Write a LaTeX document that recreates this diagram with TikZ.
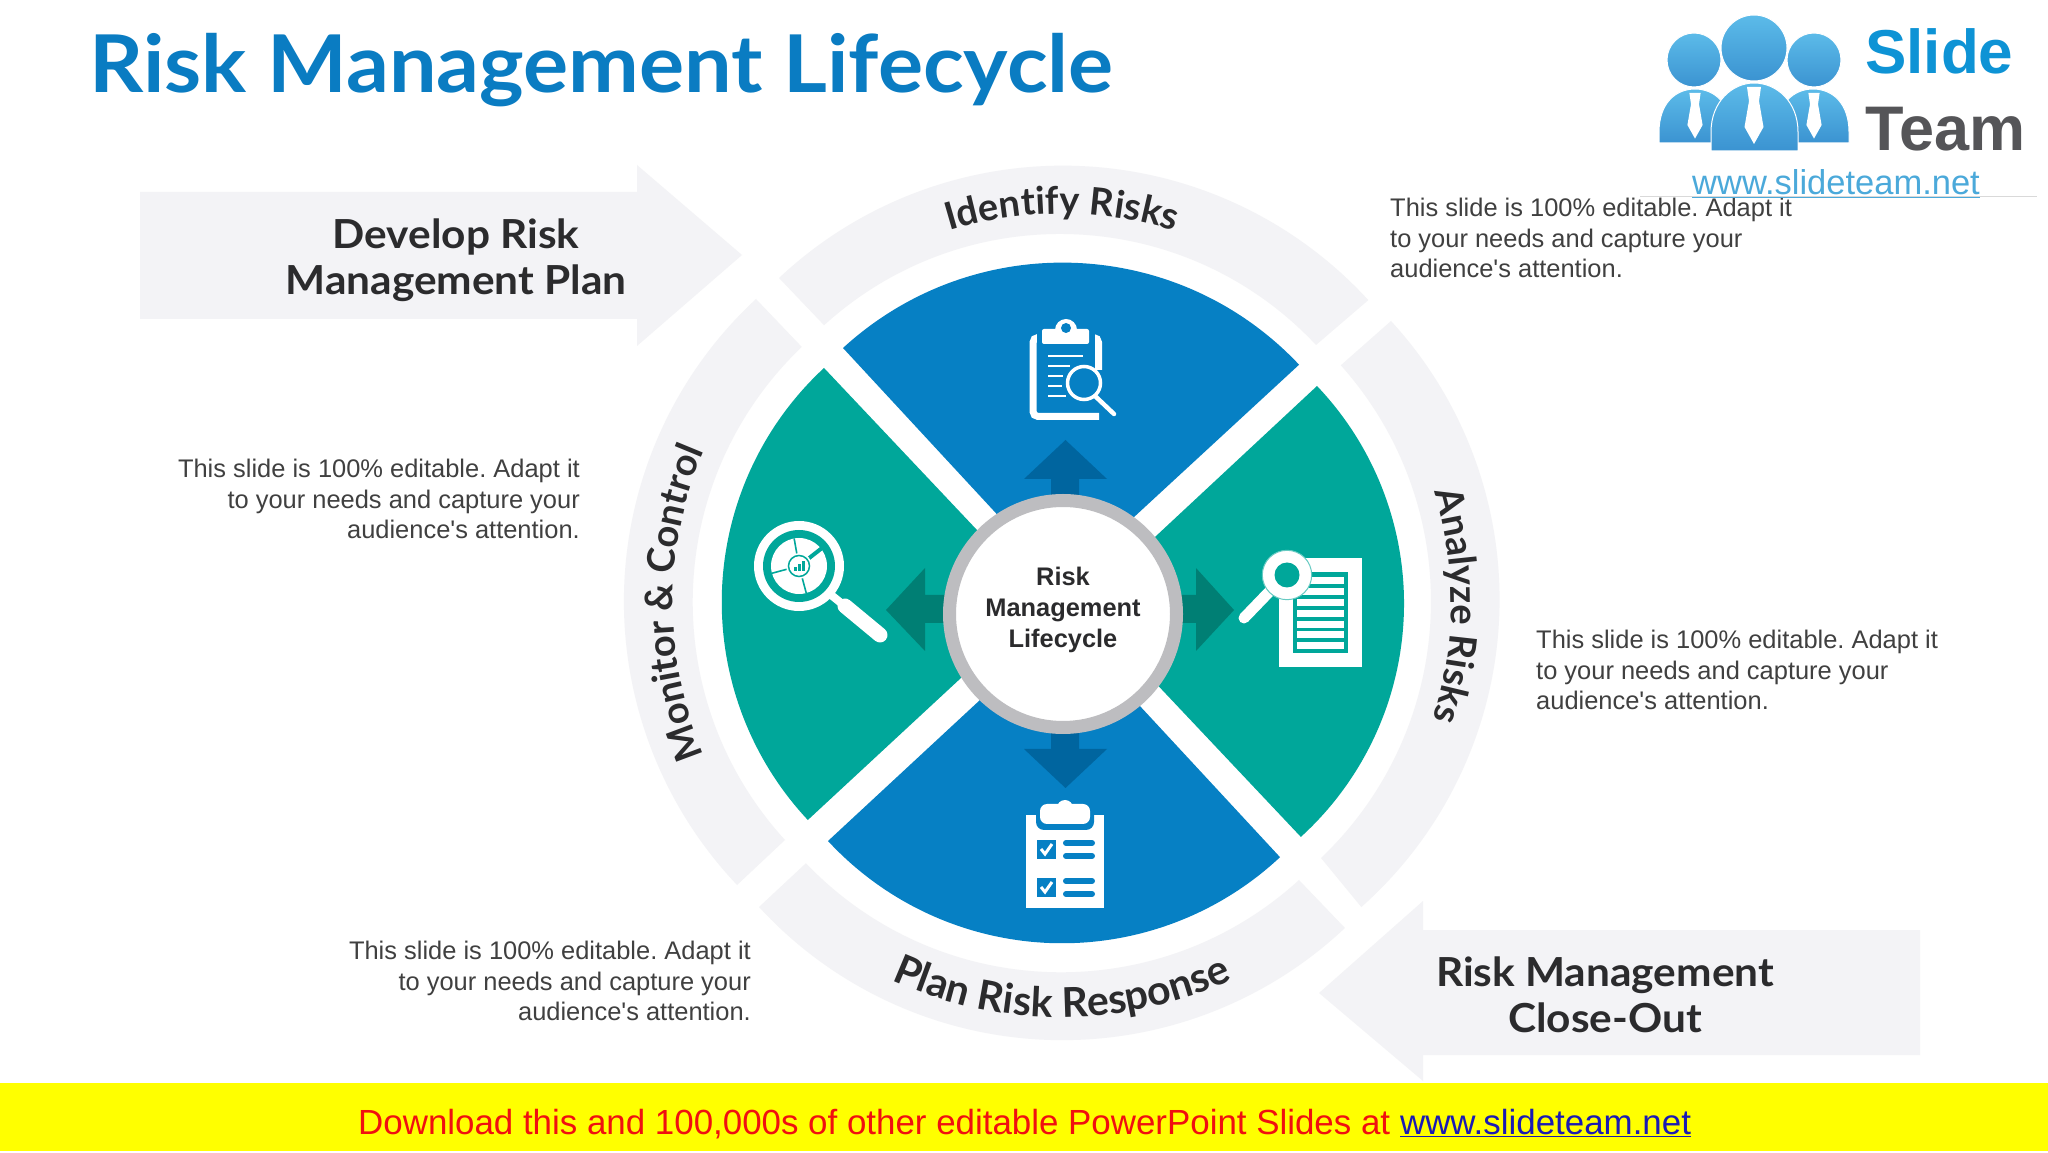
\documentclass[tikz,border=0pt]{standalone}
\usepackage{fontspec}
\setmainfont{Liberation Sans}
\newfontfamily\bodyfont{Liberation Sans}
\newfontfamily\lato{Lato}
\newfontfamily\latowide{Lato}[FakeStretch=1.06]
\usetikzlibrary{decorations.text}
\definecolor{riskblue}{HTML}{0680C4}
\definecolor{riskteal}{HTML}{00A79A}
\definecolor{darkblue}{HTML}{00659F}
\definecolor{darkteal}{HTML}{007F74}
\definecolor{bandgray}{HTML}{F3F3F6}
\definecolor{hubgray}{HTML}{BDBDC0}
\definecolor{titleblue}{HTML}{0A7CC2}
\definecolor{labeldark}{HTML}{2B2B2D}
\definecolor{bodygray}{HTML}{404040}
\definecolor{logotop}{HTML}{5CBBE9}
\definecolor{logobot}{HTML}{3B93D1}
\definecolor{logoslide}{HTML}{0E93D5}
\definecolor{logoteam}{HTML}{555558}
\definecolor{logourl}{HTML}{4BA9DA}
\definecolor{footyellow}{HTML}{FFFF00}
\definecolor{footred}{HTML}{F01010}
\definecolor{footlink}{HTML}{1A1AB4}
\newcommand{\ringfont}{\lato\bfseries\fontsize{38}{38}\selectfont}
\newcommand{\ringlarge}{\lato\bfseries\fontsize{41}{41}\selectfont}
\frenchspacing
\tikzset{
  bodytext/.style={inner sep=0,text=bodygray,font=\bodyfont\fontsize{25.45}{30.7}\selectfont},
  bigtext/.style={inner sep=0,align=center,text=labeldark,font=\latowide\bfseries\fontsize{40}{46}\selectfont},
  ringlabel/.style={decorate,decoration={text along path,text align=center,text color=labeldark,text={#1}}},
  logoblue/.style={top color=logotop,bottom color=logobot,draw=white,line width=1},
}
\begin{document}
\begin{tikzpicture}[x=1pt,y=1pt]
  \useasboundingbox (0,0) rectangle (2048,1152);
  \fill[white] (0,0) rectangle (2048,1152);
  \coordinate (ring) at (1062,549);
  \coordinate (hub) at (1063,538);
  % title
  \node (title) [anchor=base west,inner sep=0,text=titleblue,font=\latowide\bfseries\fontsize{79.7}{80}\selectfont] at (89,1059) {Risk Management Lifecycle};
  % big arrows
  \fill[bandgray] (140,960) -- (637,960) -- (637,987) -- (742,897) -- (637,806) -- (637,833) -- (140,833) -- cycle;
  \fill[bandgray] (1920,222) -- (1423,222) -- (1423,251) -- (1319,159) -- (1423,71) -- (1423,97) -- (1920,97) -- cycle;
  \node (plan) [bigtext] at (456,892) {Develop Risk\\Management Plan};
  \node (closeout) [bigtext] at (1605,157) {Risk Management\\Close-Out};
  % outer band
  \foreach \xa/\ya/\a/\b/\ra/\xb/\yb/\c/\d/\rb in {779/874/133.2/42.5/414.5/1316/807/43.1/132.3/350.6,
      1391/831/42.6/-48.4/411.4/1321/294/-46.4/41.8/354.3,
      759/245/222.6/313.3/412.1/1299/272/312.4/223.7/352.9,
      756/853/132.8/223.5/412.1/785/312/222.4/133.7/352.9}
    \fill[bandgray] (\xa,\ya) arc[start angle=\a,end angle=\b,radius=\ra] -- (\xb,\yb) arc[start angle=\c,end angle=\d,radius=\rb] -- cycle;
  \begin{scope}[shift={(ring)}]
    \path[ringlabel={|\ringfont|Identify Risks}] (170:389) arc[start angle=170,end angle=10,radius=389];
    \path[ringlabel={|\ringfont|Analyze Risks}] (79.6:389) arc[start angle=79.6,end angle=-80.4,radius=389];
    \path[ringlabel={|\ringfont|Monitor {\&} Control}] (260:389) arc[start angle=260,end angle=100,radius=389];
    \path[ringlabel={|\ringlarge|Plan Risk Response}] (190:414) arc[start angle=190,end angle=350,radius=414];
  \end{scope}
  % sectors
  \foreach \ax/\ay/\cx/\cy/\a/\b/\r/\col in {1061.5/568/843/804/132.5/43.3/325/riskblue,
      1082/547/1317/766/43.6/-47.7/315.5/riskteal,
      1063/529/828/311/222.8/313.1/319/riskblue,
      1044/551/824/784/132.8/223.1/319/riskteal}
    \fill[\col] (\ax,\ay) -- (\cx,\cy) arc[start angle=\a,end angle=\b,radius=\r] -- cycle;
  % small arrows
  \fill[darkblue] (1065.5,712) -- (1107,673) -- (1079,673) -- (1079,650) -- (1051,650) -- (1051,673) -- (1024,673) -- cycle;
  \fill[darkblue] (1065.5,364) -- (1107,403) -- (1079,403) -- (1079,425) -- (1051,425) -- (1051,403) -- (1024,403) -- cycle;
  \fill[darkteal] (886,542) -- (925,584) -- (925,557) -- (950,557) -- (950,529) -- (925,529) -- (925,501) -- cycle;
  \fill[darkteal] (1234,542) -- (1196,584) -- (1196,557) -- (1175,557) -- (1175,529) -- (1196,529) -- (1196,501) -- cycle;
  % hub
  \node (hubdisc) [circle,minimum size=227,fill=white,draw=hubgray,line width=13,inner sep=0] at (hub) {};
  \node (hubtext) [inner sep=0,align=center,text=labeldark,font=\bfseries\fontsize{25.4}{30.7}\selectfont] at (1063,542) {Risk\\Management\\Lifecycle};
  % clipboard with lens
  \draw[white,line width=7,rounded corners=5] (1098.5,782) -- (1098.5,814.5) -- (1033,814.5) -- (1033,735.5) -- (1099,735.5);
  \fill[riskblue] (1036.5,800) rectangle (1095,826);
  \fill[white,rounded corners=2] (1042,808) rectangle (1089,823);
  \fill[white] (1066,822) circle (11);
  \fill[riskblue] (1066,824) circle (5);
  \foreach \y/\xe in {796/1083,786/1070,776/1063,766/1062,756/1066}
    \draw[white,line width=2.2] (1048,\y) -- (\xe,\y);
  \draw[white,line width=4.5,line cap=round] (1095,756) -- (1114,738);
  \draw[white,line width=3.5,fill=riskblue] (1084,769) circle (16.5);
  % analysis sheet
  \fill[white] (1279,485) rectangle (1362,594);
  \fill[riskteal] (1293,499) rectangle (1348,580);
  \foreach \y in {575,564,553,542,531,521,510}
    \fill[white] (1297,\y) rectangle (1344,{\y-7});
  \draw[white,line width=11,line cap=round] (1270,561) -- (1244,534);
  \draw[riskteal!60!white,line width=1,fill=white] (1287,577) circle (24.7);
  \fill[riskteal] (1287,577) circle (12.5);
  % lens with chart
  \draw[white,line width=8] (820,566) -- (846,545);
  \draw[white,line width=15,line cap=round] (845,546) -- (880,517);
  \fill[white] (799,586) circle (45);
  \fill[riskteal] (799,586) circle (36);
  \fill[white] (799,586) circle (28);
  \foreach \a in {100,38,195,285}
    \draw[riskteal,line width=1.6] (799,586) -- ++(\a:28);
  \draw[riskteal,line width=4] (799,586) ++(38:12) -- ++(38:20);
  \fill[white] (799,586) circle (13);
  \draw[riskteal,line width=1.5] (799,586) circle (10.5);
  \foreach \x/\h in {-4/4,0/7,4/10}
    \fill[riskteal] ({799+\x-1.5},580.5) rectangle ({799+\x+1.5},{580.5+\h});
  % checklist
  \fill[white] (1026,244) rectangle (1104,337);
  \fill[riskblue,rounded corners=8] (1036,322) rectangle (1094,345);
  \fill[white,rounded corners=7] (1040,328) rectangle (1090,348);
  \fill[white] (1065,344) circle (8);
  \foreach \y in {293,255}{
    \fill[riskblue] (1037,\y) rectangle (1056,{\y+19});
    \draw[white,line width=3] (1041,{\y+10}) -- (1045,{\y+5}) -- (1052,{\y+15});
    \draw[riskblue,line width=6,line cap=round] (1066,{\y+16}) -- (1092,{\y+16});
    \draw[riskblue,line width=6,line cap=round] (1066,{\y+3}) -- (1092,{\y+3});
  }
  % side texts
  \node (textid) [bodytext,anchor=west,align=left] at (1390,914) {This slide is 100\% editable. Adapt it\\to your needs and capture your\\audience's attention.};
  \node (textan) [bodytext,anchor=west,align=left] at (1536,482) {This slide is 100\% editable. Adapt it\\to your needs and capture your\\audience's attention.};
  \node (textmo) [bodytext,anchor=east,align=right] at (580,653) {This slide is 100\% editable. Adapt it\\to your needs and capture your\\audience's attention.};
  \node (textpl) [bodytext,anchor=east,align=right] at (751,171) {This slide is 100\% editable. Adapt it\\to your needs and capture your\\audience's attention.};
  % logo
  \shade[logoblue] (1659,1009) -- (1659,1020) .. controls (1659,1048) and (1675,1063) .. (1695,1063) .. controls (1715,1063) and (1731,1048) .. (1731,1020) -- (1731,1009) -- cycle;
  \shade[logoblue] (1777,1009) -- (1777,1020) .. controls (1777,1048) and (1793,1063) .. (1813,1063) .. controls (1833,1063) and (1849,1048) .. (1849,1020) -- (1849,1009) -- cycle;
  \shade[logoblue] (1711,1001) -- (1711,1020) .. controls (1711,1050) and (1732,1069) .. (1754,1069) .. controls (1777,1069) and (1798,1050) .. (1798,1020) -- (1798,1001) -- cycle;
  \foreach \cx/\ty/\s in {1695/1059/0.8,1754/1065/1,1814/1059/0.8}
    \fill[white,shift={(\cx,\ty)},scale=\s] (-7,0) -- (7,0) -- (5,-14) -- (9.5,-40) -- (0,-57) -- (-9.5,-40) -- (-5,-14) -- cycle;
  \shade[logoblue] (1694,1092) circle (27);
  \shade[logoblue] (1814,1092) circle (27);
  \shade[logoblue] (1754,1104) circle (33);
  \node (slide) [anchor=base west,inner sep=0,text=logoslide,font=\bfseries\fontsize{62}{62}\selectfont] at (1865,1078) {Slide};
  \node (team) [anchor=base west,inner sep=0,text=logoteam,font=\bfseries\fontsize{63}{63}\selectfont] at (1865,1001) {Team};
  \draw[black!15,line width=0.8] (1640,956) -- (2037,956);
  \node (url) [anchor=base west,inner sep=0,text=logourl,font=\fontsize{34.5}{34.5}\selectfont] at (1692,957) {\underline{www.slideteam.net}};
  % footer
  \fill[footyellow] (0,1) rectangle (2048,69);
  \node (footer) [anchor=base west,inner sep=0,text=footred,font=\fontsize{34.9}{34.9}\selectfont] at (358,18) {Download this and 100,000s of other editable PowerPoint Slides at \textcolor{footlink}{\underline{www.slideteam.net}}};
\end{tikzpicture}
\end{document}
